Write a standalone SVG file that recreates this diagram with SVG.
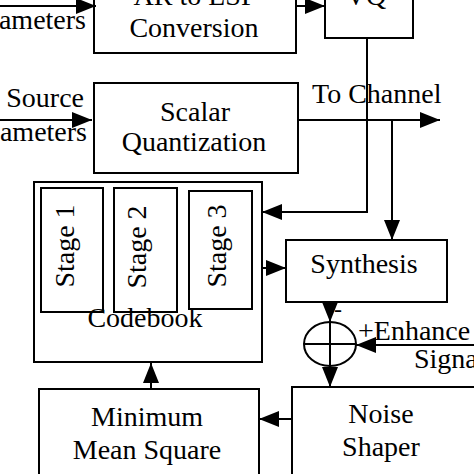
<svg xmlns="http://www.w3.org/2000/svg" width="474" height="474" viewBox="0 0 474 474">
<style>
.b{fill:#fff;stroke:#000;stroke-width:2}
.c{fill:none;stroke:#000;stroke-width:2}
text{font-family:"Liberation Serif","Times New Roman",serif;font-size:28px;fill:#000}
.m{text-anchor:middle}
.e{text-anchor:end}
</style>
<defs>
<marker id="ah" markerUnits="userSpaceOnUse" markerWidth="20" markerHeight="16" refX="20" refY="8" orient="auto">
<path d="M0,0 L20,8 L0,16 z" fill="#000"/>
</marker>
</defs>
<rect width="474" height="474" fill="#fff"/>
<g id="ar-lsf">
<rect class="b" x="94" y="-40" width="202" height="93"/>
<text class="m" x="195" y="5">AR to LSF</text>
<text class="m" x="194" y="37">Conversion</text>
</g>
<g id="vq">
<rect class="b" x="325" y="-40" width="88" height="78"/>
<text class="m" x="366" y="5">VQ</text>
</g>
<g id="scalar">
<rect class="b" x="94" y="83" width="204" height="90"/>
<text class="m" x="195" y="121">Scalar</text>
<text class="m" x="194" y="151">Quantization</text>
</g>
<g id="codebook">
<rect class="b" x="34" y="182" width="228" height="180"/>
<rect class="b" x="41" y="188" width="62" height="124"/>
<rect class="b" x="114" y="188" width="63" height="124"/>
<rect class="b" x="189" y="191" width="63" height="118"/>
<text class="m" transform="translate(74,246) rotate(-90)">Stage 1</text>
<text class="m" transform="translate(146,247) rotate(-90)">Stage 2</text>
<text class="m" transform="translate(226,246) rotate(-90)">Stage 3</text>
<text class="m" x="145" y="327">Codebook</text>
</g>
<g id="synthesis">
<rect class="b" x="286" y="240" width="161" height="62"/>
<text class="m" x="364" y="273">Synthesis</text>
</g>
<g id="sum">
<ellipse class="c" cx="330" cy="344" rx="26" ry="22"/>
<line class="c" x1="304" y1="344" x2="356" y2="344"/>
<line class="c" x1="330" y1="322" x2="330" y2="366"/>
<text x="334" y="317" style="font-size:24px">-</text>
</g>
<g id="noise-shaper">
<rect class="b" x="292" y="387" width="200" height="100"/>
<text class="m" x="381" y="423">Noise</text>
<text class="m" x="381" y="456">Shaper</text>
</g>
<g id="mmse">
<rect class="b" x="39" y="389" width="220" height="100"/>
<text class="m" x="147" y="426">Minimum</text>
<text class="m" x="147" y="459">Mean Square</text>
</g>
<g id="labels">
<text class="e" x="86" y="29">ameters</text>
<text class="e" x="84" y="107">Source</text>
<text class="e" x="87" y="141">ameters</text>
<text x="312" y="103">To Channel</text>
<text x="358" y="340">+Enhance</text>
<text x="414" y="368">Signal</text>
</g>
<g id="connectors">
<line class="c" x1="0" y1="6" x2="96" y2="6" marker-end="url(#ah)"/>
<line class="c" x1="296" y1="6" x2="325" y2="6" marker-end="url(#ah)"/>
<polyline class="c" points="367,38 367,212 262,212" marker-end="url(#ah)"/>
<line class="c" x1="298" y1="120" x2="440" y2="120" marker-end="url(#ah)"/>
<line class="c" x1="392" y1="120" x2="392" y2="240" marker-end="url(#ah)"/>
<line class="c" x1="0" y1="120" x2="92" y2="120" marker-end="url(#ah)"/>
<line class="c" x1="262" y1="268" x2="286" y2="268" marker-end="url(#ah)"/>
<line class="c" x1="330" y1="302" x2="330" y2="322" marker-end="url(#ah)"/>
<line class="c" x1="330" y1="366" x2="330" y2="387" marker-end="url(#ah)"/>
<line class="c" x1="474" y1="345" x2="356" y2="345" marker-end="url(#ah)"/>
<line class="c" x1="292" y1="419" x2="259" y2="419" marker-end="url(#ah)"/>
<line class="c" x1="151" y1="389" x2="151" y2="363" marker-end="url(#ah)"/>
</g>
</svg>
